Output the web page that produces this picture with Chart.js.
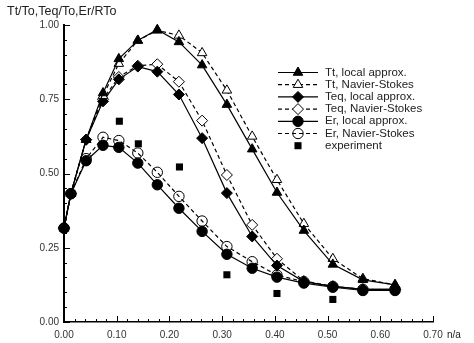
<!DOCTYPE html>
<html>
<head>
<meta charset="utf-8">
<script src="https://cdn.jsdelivr.net/npm/chart.js@4.4.1/dist/chart.umd.min.js"></script>
<style>
  html, body { margin: 0; padding: 0; background: #fff; }
  #wrap { width: 474px; height: 343px; position: relative; }
</style>
</head>
<body>
<div id="wrap"><canvas id="chart"></canvas></div>
<script>
// n/a positions shared by all computed curves
const positions = [0, 0.013, 0.042, 0.074, 0.104, 0.14, 0.177, 0.218, 0.262, 0.309, 0.357, 0.404, 0.455, 0.51, 0.567, 0.628];

const ttLocal  = [0.316, 0.432, 0.614, 0.771, 0.886, 0.948, 0.984, 0.943, 0.865, 0.732, 0.582, 0.436, 0.308, 0.194, 0.142, 0.125];
const ttNS     = [0.316, 0.432, 0.614, 0.762, 0.870, 0.948, 0.982, 0.965, 0.906, 0.780, 0.625, 0.479, 0.331, 0.213, 0.146, 0.125];
const teqLocal = [0.316, 0.432, 0.614, 0.743, 0.817, 0.860, 0.843, 0.766, 0.619, 0.434, 0.288, 0.190, 0.136, 0.120, 0.110, 0.110];
const teqNS    = [0.316, 0.432, 0.614, 0.750, 0.825, 0.863, 0.868, 0.809, 0.678, 0.495, 0.327, 0.213, 0.138, 0.120, 0.110, 0.110];
const erLocal  = [0.316, 0.432, 0.543, 0.595, 0.588, 0.535, 0.462, 0.383, 0.305, 0.228, 0.181, 0.151, 0.131, 0.117, 0.106, 0.106];
const erNS     = [0.316, 0.432, 0.550, 0.622, 0.611, 0.569, 0.504, 0.423, 0.340, 0.254, 0.203, 0.158, 0.136, 0.120, 0.110, 0.110];

const expX = [0.105, 0.141, 0.219, 0.309, 0.404, 0.510];
const expY = [0.676, 0.600, 0.522, 0.159, 0.096, 0.076];

const xTicks = [0, 0.1, 0.2, 0.3, 0.4, 0.5, 0.6, 0.7];
const yTicks = [0, 0.25, 0.5, 0.75, 1.0];

const yTitle = 'Tt/To,Teq/To,Er/RTo';
const xTitle = 'n/a';

const FONT = '"Liberation Sans", Arial, sans-serif';

function pts(xs, ys) {
    return xs.map((x, i) => ({ x: x, y: ys[i] }));
}

function curve(label, values, style, filled, dashed) {
    // hollow circles let the line show through, the other hollow marks are white
    let fill = '#000';
    if (!filled) fill = style === 'circle' ? 'rgba(255,255,255,0)' : '#fff';
    return {
        label: label,
        data: pts(positions, values),
        borderColor: '#000',
        borderWidth: 1.2,
        borderDash: dashed ? [4, 3] : [],
        pointStyle: style,
        pointRadius: style === 'circle' ? 5.2 : 5.5,
        pointBackgroundColor: fill,
        pointBorderColor: '#000',
        pointBorderWidth: 1,
        tension: 0,
        clip: false
    };
}

const datasets = [
    curve('Tt, local approx.', ttLocal, 'triangle', true, false),
    curve('Tt, Navier-Stokes', ttNS, 'triangle', false, true),
    curve('Teq, local approx.', teqLocal, 'rectRot', true, false),
    curve('Teq, Navier-Stokes', teqNS, 'rectRot', false, true),
    curve('Er, local approx.', erLocal, 'circle', true, false),
    curve('Er, Navier-Stokes', erNS, 'circle', false, true),
    {
        label: 'experiment',
        data: pts(expX, expY),
        showLine: false,
        borderColor: '#000',
        pointStyle: 'rect',
        pointRadius: 5,
        pointBackgroundColor: '#000',
        pointBorderColor: '#000',
        pointBorderWidth: 0,
        clip: false
    }
];

// inward minor/major ticks, axis titles and the legend
const decorations = {
    id: 'decorations',
    afterDraw(chart) {
        const { ctx, chartArea: area } = chart;
        const xs = chart.scales.x, ys = chart.scales.y;
        ctx.save();
        ctx.strokeStyle = '#000';
        ctx.lineWidth = 1;
        ctx.setLineDash([]);
        for (let i = 0; i <= 20; i++) {
            const py = Math.round(ys.getPixelForValue(i * 0.05)) + 0.5;
            const len = i % 5 === 0 ? 6 : 3;
            ctx.beginPath();
            ctx.moveTo(area.left, py);
            ctx.lineTo(area.left + len, py);
            ctx.stroke();
        }
        for (let i = 0; i <= 35; i++) {
            const px = Math.round(xs.getPixelForValue(i * 0.02)) + 0.5;
            const len = i % 5 === 0 ? 6 : 3;
            ctx.beginPath();
            ctx.moveTo(px, area.bottom);
            ctx.lineTo(px, area.bottom - len);
            ctx.stroke();
        }

        ctx.fillStyle = '#222';
        ctx.textBaseline = 'middle';
        ctx.textAlign = 'left';
        ctx.font = '12.5px ' + FONT;
        ctx.fillText(yTitle, 7, 12);
        ctx.font = '10px ' + FONT;
        ctx.fillText(xTitle, 447, 335);

        // legend
        const lx0 = 278, lx1 = 318, mx = 298, tx = 325;
        chart.data.datasets.forEach((ds, i) => {
            const yy = 72.5 + i * 12.2;
            if (ds.showLine !== false) {
                ctx.strokeStyle = '#000';
                ctx.lineWidth = ds.borderWidth;
                ctx.setLineDash(ds.borderDash || []);
                ctx.beginPath();
                ctx.moveTo(lx0, yy);
                ctx.lineTo(lx1, yy);
                ctx.stroke();
            }
            ctx.setLineDash([]);
            ctx.fillStyle = ds.pointBackgroundColor;
            ctx.strokeStyle = ds.pointBorderColor;
            ctx.lineWidth = ds.pointBorderWidth || 0;
            Chart.helpers.drawPoint(ctx, {
                pointStyle: ds.pointStyle,
                radius: ds.pointRadius,
                rotation: 0,
                borderWidth: ds.pointBorderWidth || 0
            }, mx, yy);
            ctx.fillStyle = '#222';
            ctx.font = '11.5px ' + FONT;
            ctx.fillText(ds.label, tx, yy);
        });
        ctx.restore();
    }
};

new Chart(document.getElementById('chart'), {
    type: 'line',
    data: { datasets: datasets },
    options: {
        responsive: true,
        maintainAspectRatio: false,
        animation: false,
        layout: { padding: { left: 0, top: 25, right: 41, bottom: 0 } },
        plugins: {
            legend: { display: false },
            tooltip: { enabled: false }
        },
        scales: {
            x: {
                type: 'linear',
                min: 0,
                max: 0.7,
                afterFit: (s) => { s.height = 21; },
                afterBuildTicks: (s) => { s.ticks = xTicks.map(v => ({ value: v })); },
                grid: { display: false, drawTicks: false },
                border: { display: true, color: '#000', width: 1.5 },
                ticks: {
                    padding: 7,
                    color: '#333',
                    font: { family: FONT, size: 10 },
                    maxRotation: 0,
                    callback: (v) => Number(v).toFixed(2)
                }
            },
            y: {
                min: 0,
                max: 1,
                afterFit: (s) => { s.width = 64; },
                afterBuildTicks: (s) => { s.ticks = yTicks.map(v => ({ value: v })); },
                grid: { display: false, drawTicks: false },
                border: { display: true, color: '#000', width: 2 },
                ticks: {
                    padding: 5,
                    color: '#333',
                    font: { family: FONT, size: 10 },
                    callback: (v) => Number(v).toFixed(2)
                }
            }
        }
    },
    plugins: [decorations]
});
</script>
</body>
</html>
